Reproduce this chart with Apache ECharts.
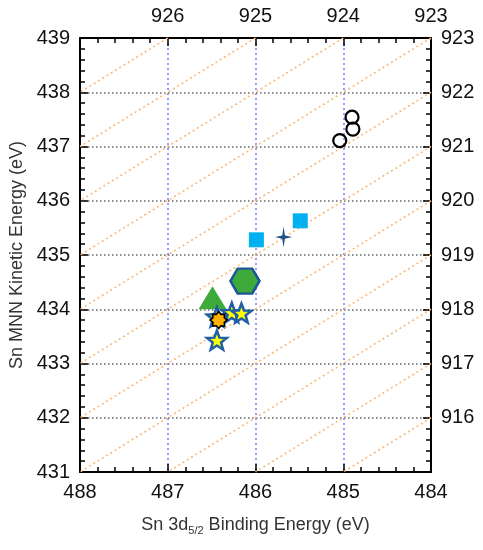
<!DOCTYPE html>
<html><head><meta charset="utf-8">
<script src="https://cdn.jsdelivr.net/npm/echarts@6/dist/echarts.min.js"></script>
<style>html,body{margin:0;padding:0;background:#fff}#c{width:483px;height:550px}</style>
</head><body><div id="c"></div>
<script>
// ---- data ----
const beRange = [484, 488];          // Sn 3d5/2 binding energy axis (reversed)
const keRange = [431, 439];          // Sn MNN kinetic energy axis
const augerParams = [916, 917, 918, 919, 920, 921, 922, 923, 924, 925, 926]; // diagonal iso-lines
const circlesBE = [485.04, 484.89, 484.90];
const circlesKE = [437.11, 437.32, 437.54];
const squaresBE = [485.99, 485.49];
const squaresKE = [435.28, 435.63];
const crossBE = [485.68];
const crossKE = [435.33];
const hexagonBE = [486.12];
const hexagonKE = [434.52];
const triangleBE = [486.49];
const triangleKE = [434.21];
const starsBE = [486.44, 486.27, 486.16, 486.44];
const starsKE = [433.86, 433.94, 433.93, 433.43];
const burstBE = [486.42];
const burstKE = [433.80];

// ---- helpers ----
function pairs(xs, ys) { return xs.map((x, i) => [x, ys[i]]); }
function starPath(n, rIn, rot) {
  const pts = [];
  for (let i = 0; i < 2 * n; i++) {
    const r = i % 2 === 0 ? 1 : rIn;
    const a = rot + Math.PI * i / n;
    pts.push((r * Math.cos(a)).toFixed(4) + ',' + (r * Math.sin(a)).toFixed(4));
  }
  return 'path://M' + pts.join('L') + 'Z';
}
function polyPath(n, rot) {
  const pts = [];
  for (let i = 0; i < n; i++) {
    const a = rot + 2 * Math.PI * i / n;
    pts.push(Math.cos(a).toFixed(4) + ',' + Math.sin(a).toFixed(4));
  }
  return 'path://M' + pts.join('L') + 'Z';
}
const STAR5 = starPath(5, 0.42, -Math.PI / 2);
const STAR4 = starPath(4, 0.22, -Math.PI / 2);
const BURST8 = starPath(8, 0.72, -Math.PI / 2);
const HEX = polyPath(6, 0);

const FONT = 'Liberation Sans, Arial, sans-serif';
const lineSeries = augerParams.map(a => {
  const bMin = Math.max(beRange[0], a - keRange[1]);
  const bMax = Math.min(beRange[1], a - keRange[0]);
  return {
    type: 'line', silent: true, symbol: 'none', z: 1,
    data: [[bMin, a - bMin], [bMax, a - bMax]],
    lineStyle: { color: '#f9b878', width: 1.6, type: [2, 3] }
  };
});

const axisCommon = {
  axisLine: { show: true, onZero: false, lineStyle: { color: '#000', width: 2 } },
  axisTick: { show: true, inside: true, length: 8, lineStyle: { color: '#000', width: 1.5 } },
  minorTick: { show: true, splitNumber: 5, length: 5, lineStyle: { color: '#000', width: 1.5 } },
  axisLabel: { fontSize: 20, color: '#111', fontFamily: FONT, margin: 10 }
};

const chart = echarts.init(document.getElementById('c'));
chart.setOption({
  animation: false,
  grid: { left: 80, right: 52, top: 38, bottom: 78, containLabel: false, outerBoundsMode: 'none' },
  xAxis: [
    Object.assign({}, axisCommon, {
      type: 'value', position: 'bottom', min: beRange[0], max: beRange[1], interval: 1, inverse: true,
      splitLine: { show: true, lineStyle: { color: '#7b7bff', width: 1.5, type: [2, 3] } },
      name: '{a|Sn 3d}{s|5/2}{a| Binding Energy (eV)}', nameLocation: 'middle', nameGap: 44,
      nameTextStyle: { rich: {
        a: { fontSize: 18, color: '#333', fontFamily: FONT, lineHeight: 20, verticalAlign: 'top' },
        s: { fontSize: 11, color: '#333', fontFamily: FONT, lineHeight: 12, padding: [14, 0, 0, 0], verticalAlign: 'bottom' }
      } }
    }),
    Object.assign({}, axisCommon, {
      type: 'value', position: 'top', min: beRange[0], max: beRange[1], interval: 1, inverse: true,
      splitLine: { show: false },
      axisLabel: Object.assign({}, axisCommon.axisLabel, {
        margin: 12,
        formatter: v => v === beRange[1] ? '' : String(v + keRange[1])
      })
    })
  ],
  yAxis: [
    Object.assign({}, axisCommon, {
      type: 'value', position: 'left', min: keRange[0], max: keRange[1], interval: 1,
      splitLine: { show: true, lineStyle: { color: '#666', width: 1.5, type: [1.5, 2.5] } },
      name: 'Sn MNN Kinetic Energy (eV)', nameLocation: 'middle', nameGap: 46,
      nameTextStyle: { fontSize: 18, color: '#333', fontFamily: FONT }
    }),
    Object.assign({}, axisCommon, {
      type: 'value', position: 'right', min: keRange[0], max: keRange[1], interval: 1,
      splitLine: { show: false },
      axisLabel: Object.assign({}, axisCommon.axisLabel, {
        formatter: v => v === keRange[0] ? '' : String(v + beRange[0])
      })
    })
  ],
  series: lineSeries.concat([
    { type: 'scatter', z: 3, data: pairs(circlesBE, circlesKE), symbol: 'circle', symbolSize: 13,
      itemStyle: { color: 'rgba(0,0,0,0)', borderColor: '#000', borderWidth: 2.2, opacity: 1 } },
    { type: 'scatter', z: 3, data: pairs(squaresBE, squaresKE), symbol: 'rect', symbolSize: 15,
      itemStyle: { color: '#00b0f0', opacity: 1 } },
    { type: 'scatter', z: 3, data: pairs(crossBE, crossKE), symbol: STAR4, symbolSize: [17, 21],
      itemStyle: { color: '#1f4e8c', opacity: 1 } },
    { type: 'scatter', z: 3, data: pairs(hexagonBE, hexagonKE), symbol: HEX, symbolSize: [29, 25],
      itemStyle: { color: '#3daa3a', borderColor: '#1f5599', borderWidth: 2.5, opacity: 1 } },
    { type: 'scatter', z: 3, data: pairs(triangleBE, triangleKE), symbol: 'triangle', symbolSize: [28, 23],
      itemStyle: { color: '#3daa3a', opacity: 1 } },
    { type: 'scatter', z: 4, data: pairs(starsBE, starsKE), symbol: STAR5, symbolSize: [20, 19],
      itemStyle: { color: '#ffff00', borderColor: '#1f5fa6', borderWidth: 2.5, opacity: 1 } },
    { type: 'scatter', z: 5, data: pairs(burstBE, burstKE), symbol: BURST8, symbolSize: 17,
      itemStyle: { color: '#ffb000', borderColor: '#000', borderWidth: 1.6, opacity: 1 } }
  ])
});
</script></body></html>
